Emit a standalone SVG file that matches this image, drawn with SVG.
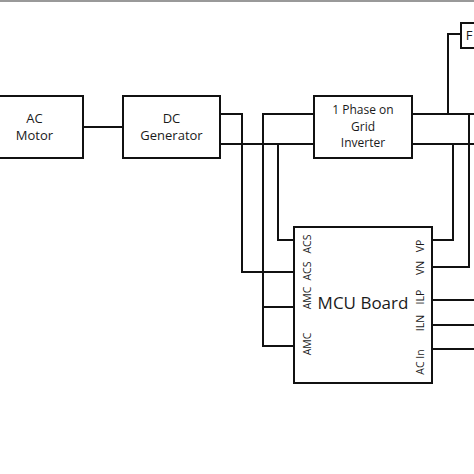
<svg xmlns="http://www.w3.org/2000/svg" width="474" height="474" viewBox="0 0 474 474">
<style>
.box{fill:#fff;stroke:#111;stroke-width:2}
.w{fill:none;stroke:#111;stroke-width:2}
text{font-family:"Open Sans","Noto Sans",sans-serif;fill:#1a1a1a;text-anchor:middle}
.t{font-size:13px}
.i{font-size:12px}
.p{font-size:10.5px;dominant-baseline:central}
</style>
<rect x="0" y="0" width="474" height="474" fill="#fff"/>
<rect x="0" y="0" width="474" height="2" fill="#999"/>
<g id="connectors">
<path class="w" d="M83 127H123"/>
<path class="w" d="M220 114H242V272H294"/>
<path class="w" d="M220 144H314"/>
<path class="w" d="M314 114H263V346H294M263 307H294"/>
<path class="w" d="M278 144V240H294"/>
<path class="w" d="M412 114H474"/>
<path class="w" d="M412 144H474"/>
<path class="w" d="M448 114V34H461"/>
<path class="w" d="M453 144V240H432"/>
<path class="w" d="M469 114V267H432"/>
<path class="w" d="M432 300H474M432 325H474M432 349H474"/>
</g>
<g id="ac-motor">
<rect class="box" x="-14" y="96" width="97" height="62"/>
<text class="t" x="34.5" y="123">AC</text>
<text class="t" x="34.5" y="140">Motor</text>
</g>
<g id="dc-generator">
<rect class="box" x="123" y="96" width="97" height="62"/>
<text class="t" x="171.5" y="123">DC</text>
<text class="t" x="171.5" y="140">Generator</text>
</g>
<g id="inverter">
<rect class="box" x="314" y="96" width="98" height="62"/>
<text class="i" x="363" y="114">1 Phase on</text>
<text class="i" x="363" y="130.5">Grid</text>
<text class="i" x="363" y="147">Inverter</text>
</g>
<g id="f-box">
<rect class="box" x="461" y="23" width="30" height="25"/>
<text class="t" x="469" y="40">F</text>
</g>
<g id="mcu-board">
<rect class="box" x="294" y="227" width="138" height="156"/>
<text x="363" y="309" style="font-size:17px">MCU Board</text>
<text class="p" x="307" y="244" transform="rotate(-90 307 244)">ACS</text>
<text class="p" x="307" y="271" transform="rotate(-90 307 271)">ACS</text>
<text class="p" x="307" y="298" transform="rotate(-90 307 298)">AMC</text>
<text class="p" x="307" y="344" transform="rotate(-90 307 344)">AMC</text>
<text class="p" x="420" y="246" transform="rotate(-90 420 246)">VP</text>
<text class="p" x="420" y="268" transform="rotate(-90 420 268)">VN</text>
<text class="p" x="420" y="297" transform="rotate(-90 420 297)">ILP</text>
<text class="p" x="420" y="323" transform="rotate(-90 420 323)">ILN</text>
<text class="p" x="420" y="362" transform="rotate(-90 420 362)">AC In</text>
</g>
</svg>
